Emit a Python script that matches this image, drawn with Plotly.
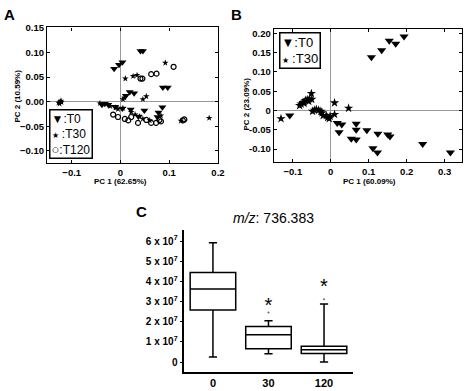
import plotly.graph_objects as go

# ---------------- Panel A data ----------------
a_t0_x = [0.041, 0.046, -0.013, -0.003, 0.004, 0.019, 0.028, 0.011, 0.087, 0.097, -0.038, -0.025,
          -0.011, 0.086, 0.049, 0.021, -0.032, 0.037, 0.076, 0.004, 0.078]
a_t0_y = [0.103, 0.103, 0.067, 0.075, 0.080, 0.020, 0.017, 0.012, 0.029, 0.029, -0.006, -0.006,
          -0.010, -0.011, -0.018, -0.016, -0.004, -0.030, -0.031, -0.014, -0.022]
a_t30_x = [0.092, 0.026, 0.034, 0.010, 0.053, 0.046, 0.005, 0.008, -0.127, -0.124, -0.122, -0.121,
           -0.125, -0.042, -0.021, -0.005, 0.005, 0.022, 0.030, 0.039, 0.060, 0.083, 0.124, 0.182,
           0.046, -0.010]
a_t30_y = [0.079, 0.052, 0.054, 0.047, 0.011, 0.005, 0.005, 0.008, -0.002, 0.000, 0.002, -0.001,
           -0.004, -0.003, -0.009, -0.015, -0.013, -0.021, -0.026, -0.030, -0.038, -0.028, -0.039,
           -0.033, -0.035, -0.012]
a_t120_x = [0.109, 0.063, 0.074, 0.041, 0.045, -0.015, -0.005, 0.009, 0.016, 0.022, 0.036, 0.053,
            0.063, 0.073, 0.080, 0.083, 0.128, 0.131]
a_t120_y = [0.071, 0.056, 0.057, 0.047, 0.047, -0.026, -0.031, -0.035, -0.038, -0.031, -0.043,
            -0.037, -0.043, -0.043, -0.037, -0.040, -0.038, -0.036]
a_legend_labels = [":T0", " :T30", ":T120"]

# ---------------- Panel B data ----------------
b_t0_x = [0.107, 0.134, 0.154, 0.171, 0.193, -0.108, 0.017, 0.029, 0.022, 0.067, 0.067, 0.095,
          0.124, 0.150, 0.156, 0.054, 0.067, 0.111, 0.123, 0.242, 0.315]
b_t0_y = [0.138, 0.156, 0.181, 0.173, 0.192, -0.013, -0.032, -0.036, -0.056, -0.034, -0.050,
          -0.051, -0.060, -0.062, -0.067, -0.073, -0.075, -0.098, -0.109, -0.087, -0.109]
b_t30_x = [-0.131, -0.082, -0.078, -0.073, -0.070, -0.067, -0.062, -0.058, -0.056, -0.051, -0.050,
           -0.043, -0.038, -0.032, -0.026, -0.048, -0.020, -0.012, -0.008, -0.004, 0.010, 0.010,
           0.047, -0.023, -0.002]
b_t30_y = [-0.021, 0.013, 0.017, 0.021, 0.019, 0.026, 0.028, 0.024, 0.030, 0.044, 0.029, 0.001,
           0.003, 0.001, -0.002, -0.002, -0.013, -0.013, -0.018, -0.021, 0.020, -0.010, 0.006,
           -0.006, -0.015]
b_legend_labels = [":T0", " :T30"]

b_yticks = [0.20, 0.15, 0.10, 0.05, 0, -0.05, -0.10]
b_yticktext = ["0.20", "0.15", "0.10", "0.05", "0", "-0.05", "-0.10"]

# ---------------- Panel C data ----------------
c_cats = ["0", "30", "120"]
c_q1 = [2.58e7, 0.66e7, 0.43e7]
c_median = [3.62e7, 1.35e7, 0.61e7]
c_q3 = [4.45e7, 1.77e7, 0.79e7]
c_lower = [0.25e7, 0.41e7, 0.0]
c_upper = [5.92e7, 2.05e7, 2.88e7]
c_out_cats = ["30", "120"]
c_out_vals = [2.46e7, 3.12e7]
c_sig_cats = ["30", "120"]
c_sig_vals = [2.74e7, 3.69e7]
c_yticks = [0, 1e7, 2e7, 3e7, 4e7, 5e7, 6e7]
c_yticktext = ["0", "1 x 10<sup>7</sup>", "2 x 10<sup>7</sup>", "3 x 10<sup>7</sup>",
               "4 x 10<sup>7</sup>", "5 x 10<sup>7</sup>", "6 x 10<sup>7</sup>"]

FONT = "Liberation Sans, Arial, sans-serif"
W, H = 474, 391

def px(x):
    return x / W

def py(y):
    return 1 - y / H

fig = go.Figure()

# Panel A
fig.add_trace(go.Scatter(x=a_t0_x, y=a_t0_y, mode="markers", name=":T0",
                         marker=dict(symbol="triangle-down", size=7, color="black"),
                         xaxis="x", yaxis="y", showlegend=False))
fig.add_trace(go.Scatter(x=a_t30_x, y=a_t30_y, mode="markers", name=":T30",
                         marker=dict(symbol="star", size=5, color="black"),
                         xaxis="x", yaxis="y", showlegend=False))
fig.add_trace(go.Scatter(x=a_t120_x, y=a_t120_y, mode="markers", name=":T120",
                         marker=dict(symbol="circle-open", size=5, color="black",
                                     line=dict(width=1.2, color="black")),
                         xaxis="x", yaxis="y", showlegend=False))

# Panel B
fig.add_trace(go.Scatter(x=b_t0_x, y=b_t0_y, mode="markers", name=":T0",
                         marker=dict(symbol="triangle-down", size=8, color="black"),
                         xaxis="x2", yaxis="y2", showlegend=False))
fig.add_trace(go.Scatter(x=b_t30_x, y=b_t30_y, mode="markers", name=":T30",
                         marker=dict(symbol="star", size=7, color="black"),
                         xaxis="x2", yaxis="y2", showlegend=False))

# Panel C
fig.add_trace(go.Box(x=c_cats, q1=c_q1, median=c_median, q3=c_q3,
                     lowerfence=c_lower, upperfence=c_upper,
                     width=0.82, whiskerwidth=0.18, boxpoints=False,
                     fillcolor="white", line=dict(color="black", width=1.5),
                     xaxis="x3", yaxis="y3", showlegend=False))
fig.add_trace(go.Scatter(x=c_out_cats, y=c_out_vals, mode="markers",
                         marker=dict(size=2, color="#666"),
                         xaxis="x3", yaxis="y3", showlegend=False))
fig.add_trace(go.Scatter(x=c_sig_cats, y=c_sig_vals, mode="text", text=["*", "*"],
                         textfont=dict(size=20, color="black", family=FONT),
                         textposition="middle center",
                         xaxis="x3", yaxis="y3", showlegend=False))

tickfont = dict(family=FONT, size=9.5, color="black", weight="bold")
common_scatter_axis = dict(showline=True, linecolor="black", linewidth=1.3, mirror="ticks",
                           ticks="inside", ticklen=3, tickcolor="black", showgrid=False,
                           zeroline=True, zerolinecolor="#999", zerolinewidth=1,
                           tickfont=tickfont)

fig.update_layout(
    width=W, height=H, margin=dict(l=0, r=0, t=0, b=0),
    paper_bgcolor="white", plot_bgcolor="white",
    font=dict(family=FONT, color="black"),
    showlegend=False,
    xaxis=dict(domain=[px(47.7), px(221)], range=[-0.1505, 0.2005], dtick=0.1,
               anchor="y", **common_scatter_axis),
    yaxis=dict(domain=[py(160.3), py(22.7)], range=[-0.125, 0.151], dtick=0.05,
               tickformat=".2f", anchor="x", **common_scatter_axis),
    xaxis2=dict(domain=[px(277.3), px(467.7)], range=[-0.15, 0.345], dtick=0.1,
                anchor="y2", **common_scatter_axis),
    yaxis2=dict(domain=[py(159.3), py(24)], range=[-0.134, 0.212],
                tickvals=b_yticks, ticktext=b_yticktext, anchor="x2", **common_scatter_axis),
    xaxis3=dict(domain=[px(186.7), px(358)], range=[-0.515, 2.53], type="category",
                showline=True, linecolor="black", linewidth=1.5, ticks="", showgrid=False,
                tickfont=dict(family=FONT, size=11, color="black", weight="bold"),
                anchor="y3"),
    yaxis3=dict(domain=[py(371.7), py(228)], range=[-0.49e7, 6.55e7],
                tickvals=c_yticks, ticktext=c_yticktext, showline=True, linecolor="black",
                linewidth=1.5, ticks="outside", ticklen=3, tickcolor="black", showgrid=False,
                zeroline=False, tickfont=dict(family=FONT, size=10, color="black", weight="bold"),
                anchor="x3"),
)

# Legend boxes (symbol glyphs + labels)
a_glyphs = ["\u25BC", "<span style='font-size:8px'>\u2605</span>",
            "<span style='font-size:13px'>\u25CB</span>"]
b_glyphs = ["\u25BC", "<span style='font-size:8px'>\u2605</span>"]
legend_a_text = "<br>".join(g + l for g, l in zip(a_glyphs, a_legend_labels))
legend_b_text = "<br>".join(g + l for g, l in zip(b_glyphs, b_legend_labels))
for txt, x, y, fs in [(legend_a_text, 50, 105, 12), (legend_b_text, 283, 27, 13)]:
    fig.add_annotation(text=txt, x=px(x), y=py(y), xref="paper", yref="paper",
                       showarrow=False, xanchor="left", yanchor="top", align="left",
                       bordercolor="black", borderwidth=1.5, borderpad=1, bgcolor="white",
                       font=dict(family=FONT, size=fs, color="black"))

ann = [
    dict(text="<b>A</b>", x=px(10), y=py(10), size=15),
    dict(text="<b>B</b>", x=px(240), y=py(10), size=15),
    dict(text="<b>C</b>", x=px(143), y=py(209), size=15),
    dict(text="<b>PC 1 (62.65%)</b>", x=px(122), y=py(179), size=8),
    dict(text="<b>PC 1 (60.09%)</b>", x=px(374), y=py(179), size=8),
    dict(text="<i>m/z</i>: 736.383", x=px(277), y=py(216), size=14),
]
for a in ann:
    fig.add_annotation(text=a["text"], x=a["x"], y=a["y"], xref="paper", yref="paper",
                       showarrow=False, xanchor="center", yanchor="middle",
                       font=dict(family=FONT, size=a["size"], color="black"))
for txt, x, y in [("<b>PC 2 (10.59%)</b>", 18, 92), ("<b>PC 2 (23.09%)</b>", 250, 100)]:
    fig.add_annotation(text=txt, x=px(x), y=py(y), xref="paper", yref="paper",
                       showarrow=False, textangle=-90, xanchor="center", yanchor="middle",
                       font=dict(family=FONT, size=8, color="black"))

fig.write_html("out.html", config={"displayModeBar": False},
               post_script="document.body.style.margin='0';")
